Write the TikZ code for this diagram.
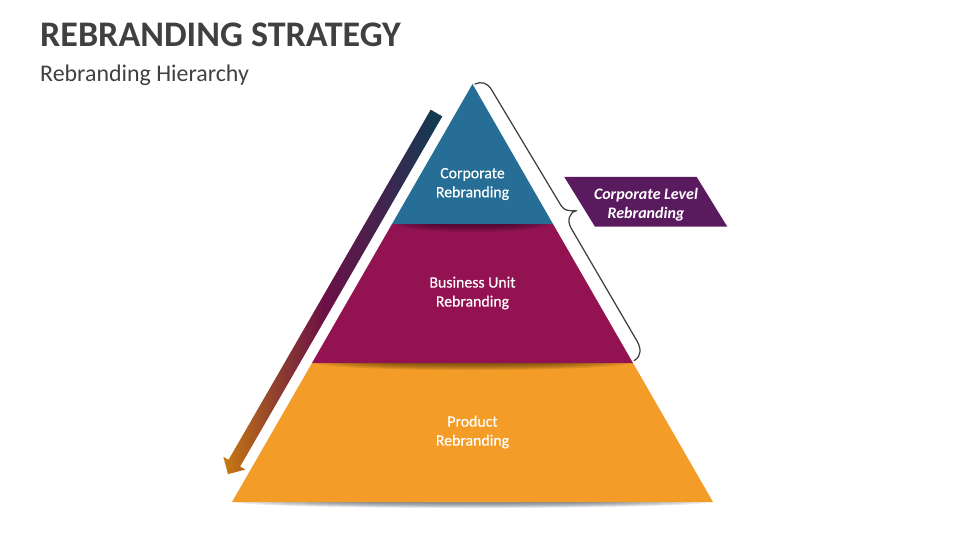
\documentclass[tikz,border=0pt]{standalone}
\usepackage{fontspec}
\setmainfont{Carlito}
\newfontfamily\tierfont[FakeBold=0.35]{Carlito}
\usetikzlibrary{shapes.arrows}
\definecolor{tealc}{HTML}{266E96}
\definecolor{maroonc}{HTML}{931352}
\definecolor{orangec}{HTML}{F39C27}
\definecolor{purplec}{HTML}{5A1A5E}
\definecolor{inkc}{HTML}{404040}
\definecolor{ga}{HTML}{143A52}
\definecolor{gb}{HTML}{3F2650}
\definecolor{gc}{HTML}{6C1045}
\definecolor{gd}{HTML}{8F402F}
\definecolor{ge}{HTML}{C87A10}
\definecolor{shm}{HTML}{3A0525}
\definecolor{sho}{HTML}{5A3A0A}
\definecolor{shg}{HTML}{4A5560}
\pgfdeclarehorizontalshading{arrowgrad}{100bp}{
  color(0bp)=(ga);
  color(27bp)=(ga);
  color(38bp)=(gb);
  color(52bp)=(gc);
  color(63bp)=(gd);
  color(75bp)=(ge);
  color(100bp)=(ge)}
\tikzset{
  tier/.style={inner sep=0pt,font=\tierfont\fontsize{15.8}{19}\selectfont,text=white,align=center},
  bracepath/.style={draw=inkc,line width=1.25pt,line cap=round,line join=round}
}
\newcommand{\softlens}[5]{% x, y, half-width, height, colour
  \foreach \k in {0,...,7}{
    \fill[#5,fill opacity=0.13] (#1,#2) ellipse ({#3*(1-0.07*\k)} and {#4*(1-0.115*\k)});
  }}
\begin{document}
\begin{tikzpicture}[x=1pt,y=-1pt]
\useasboundingbox (0,0) rectangle (960,540);
% title
\node[anchor=west,inner sep=0pt,text=inkc,font=\fontsize{36}{40}\selectfont\bfseries] (title) at (40,35) {REBRANDING STRATEGY};
\node[anchor=west,inner sep=0pt,text=inkc,font=\fontsize{23.9}{28}\selectfont] (subtitle) at (40,75) {Rebranding Hierarchy};
% base shadow
\begin{scope}
\clip (225,502) rectangle (720,512);
\softlens{472.5}{502}{235}{6}{shg}
\end{scope}
% tiers
\fill[orangec] (312,363) -- (633,363) -- (713,502) -- (232,502) -- cycle;
\fill[maroonc] (392,224) -- (553,224) -- (633,363) -- (312,363) -- cycle;
\fill[tealc] (472.5,84) -- (553,224) -- (392,224) -- cycle;
% shadows
\begin{scope}
\clip (312,363) -- (633,363) -- (713,502) -- (232,502) -- cycle;
\softlens{472.5}{363}{155}{7}{sho}
\end{scope}
\begin{scope}
\clip (392,224) -- (553,224) -- (633,363) -- (312,363) -- cycle;
\softlens{472.5}{224}{78}{8}{shm}
\end{scope}
% labels
\node[tier] (corp) at (472.5,184) {Corporate\\Rebranding};
\node[tier] (bu) at (472.5,293) {Business Unit\\Rebranding};
\node[tier] (prod) at (472.5,432) {Product\\Rebranding};
% gradient arrow
\node[single arrow,rotate=240,anchor=west,minimum height=417pt,minimum width=25pt,
  single arrow head extend=6pt,single arrow head indent=0pt,inner xsep=0pt,inner ysep=6.5pt,outer sep=0pt,
  text height=0pt,text depth=0pt,shading=arrowgrad,shading angle=180] (flow) at (436.5,113) {};
% brace
\coordinate (braceTop) at (475,84);
\coordinate (braceTip) at (576.5,210.7);
\coordinate (braceEnd) at (634,360.7);
\draw[bracepath] (braceTop) .. controls (481,81.5) and (487,82) .. (491.7,90)
  -- (561,205.5) .. controls (564.5,211) and (569,211) .. (braceTip)
  .. controls (569,212) and (567,221) .. (571,228)
  -- (637,341) .. controls (641,348) and (642,356) .. (braceEnd);
% callout
\fill[purplec] (564.3,177) -- (696.7,177) -- (727.3,226.7) -- (595,226.7) -- cycle;
\node[inner sep=0pt,text=white,align=center,font=\fontsize{16}{19}\selectfont\bfseries\itshape] (level) at (646,204.5) {Corporate Level\\Rebranding};
\end{tikzpicture}
\end{document}
